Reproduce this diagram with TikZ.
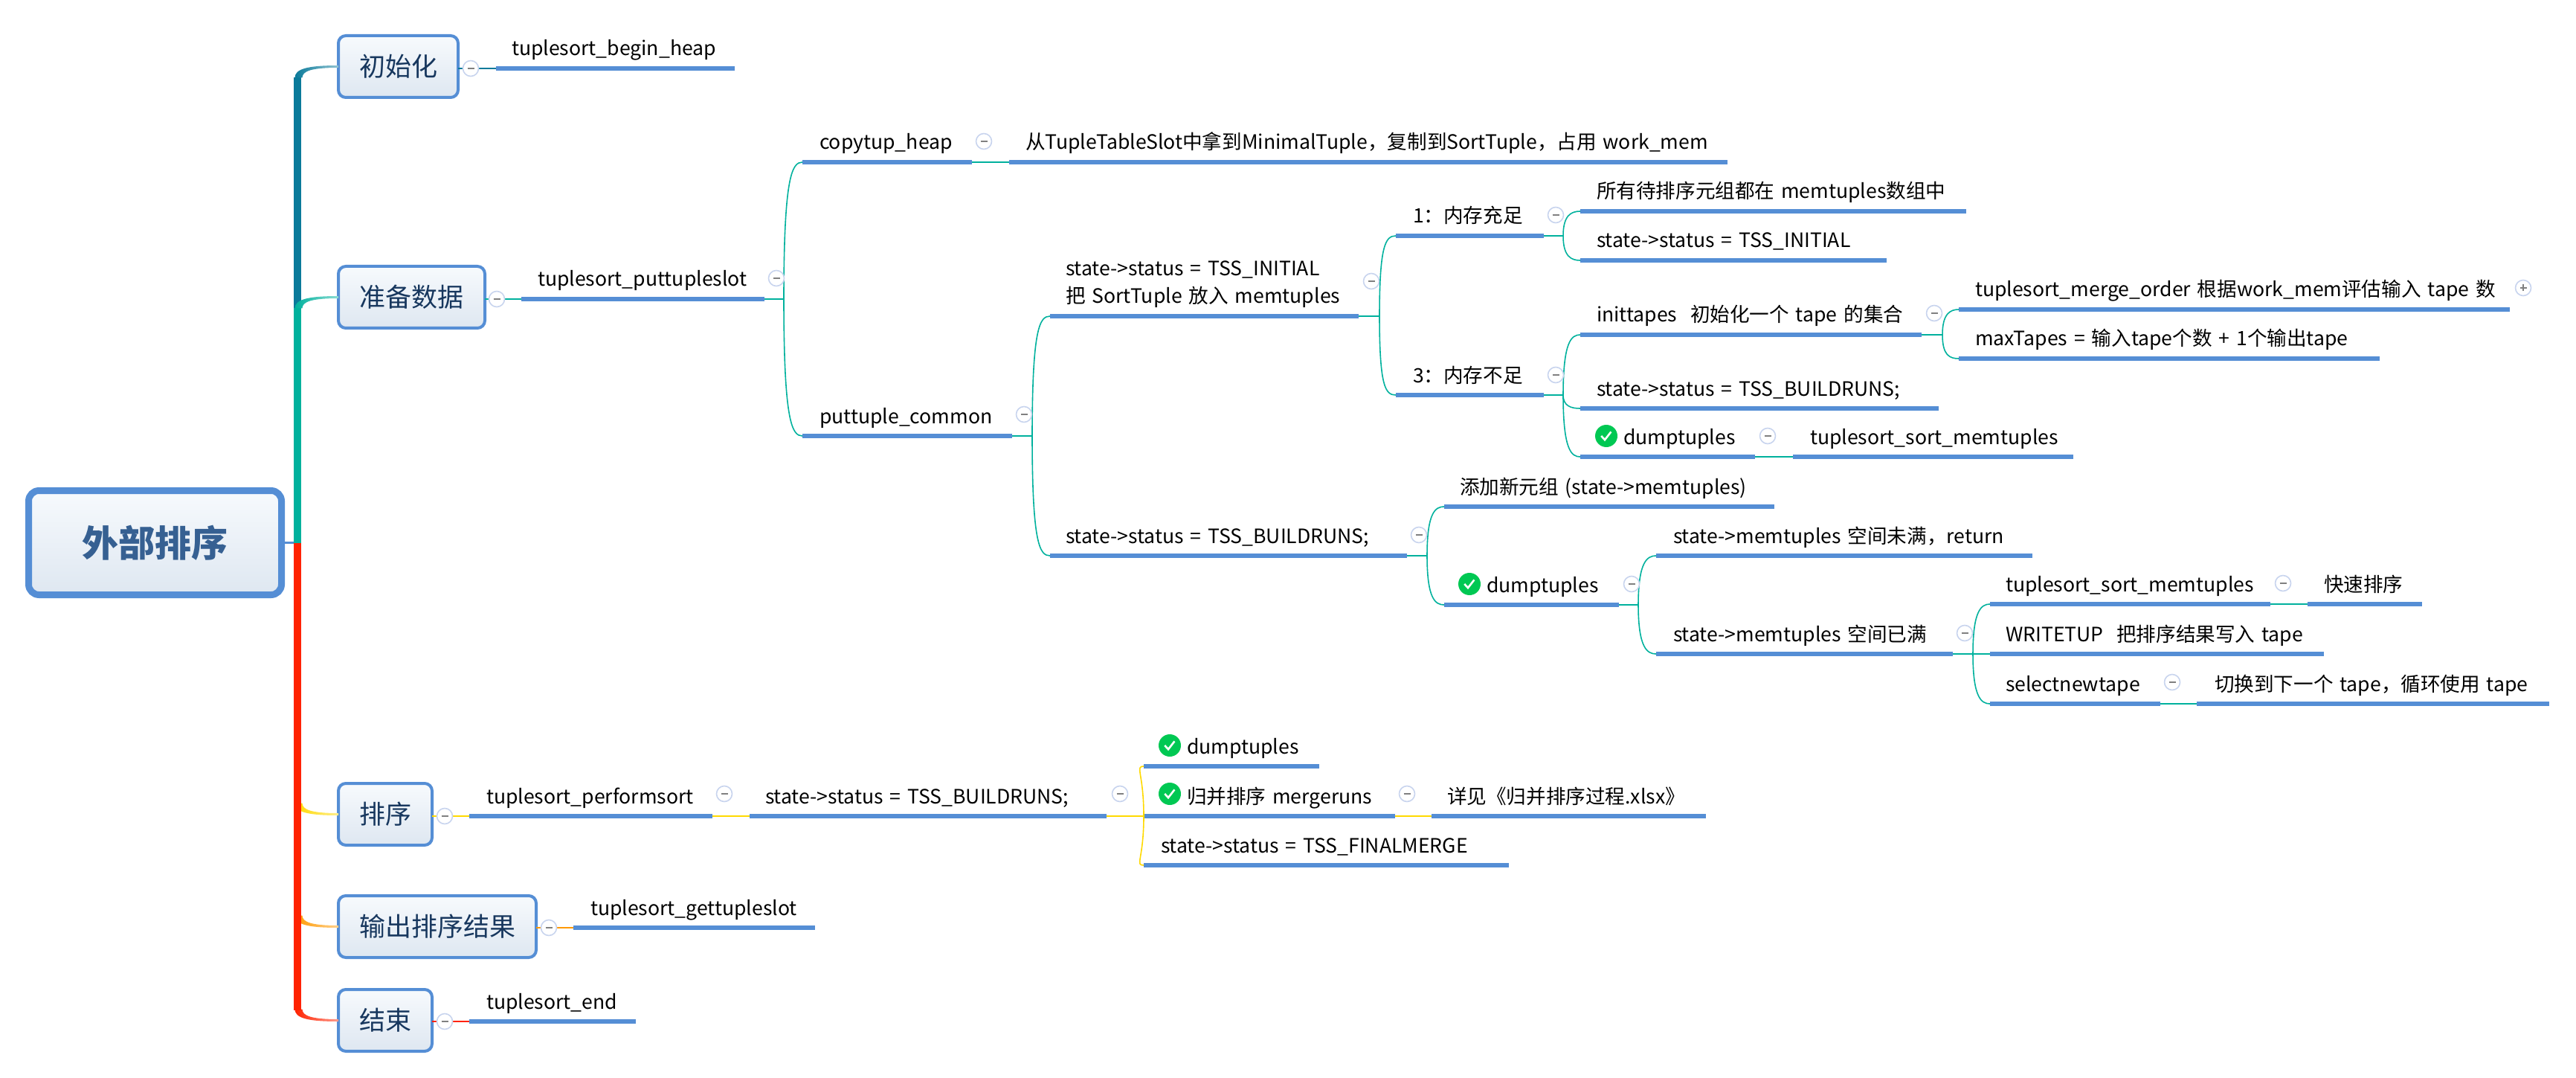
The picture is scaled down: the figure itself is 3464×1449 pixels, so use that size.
\documentclass[tikz,border=0pt]{standalone}
\usepackage{fontspec}
\setmainfont{Noto Sans CJK SC}
\usetikzlibrary{calc}

\definecolor{rulesblue}{RGB}{85,142,213}
\definecolor{boxtop}{RGB}{247,250,253}
\definecolor{boxbottom}{RGB}{222,231,241}
\definecolor{boxink}{RGB}{23,55,94}
\definecolor{rootink}{RGB}{54,96,146}
\definecolor{branchblue}{RGB}{10,122,154}
\definecolor{branchteal}{RGB}{0,177,157}
\definecolor{branchyellow}{RGB}{255,217,0}
\definecolor{branchorange}{RGB}{255,153,0}
\definecolor{branchred}{RGB}{255,34,0}
\definecolor{foldring}{RGB}{200,212,238}
\definecolor{donegreen}{RGB}{0,200,83}

\tikzset{
  pad/.store in=\leafpad, pad=10.5pt,
  leaf/.style={anchor=south west, inner sep=0pt, outer sep=0pt, text depth=8.5pt, align=left,
    font=\fontsize{13.3}{18.5}\selectfont, execute at begin node={\leftskip=\leafpad},
    append after command={(\tikzlastnode.south west) edge[rulesblue, line width=3.2pt] (\tikzlastnode.south east)}},
  topic/.style={draw=rulesblue, line width=2pt, rounded corners=5pt, top color=boxtop, bottom color=boxbottom,
    outer sep=0pt, inner sep=0pt, minimum height=41.5pt, text=boxink, font=\fontsize{17.5}{20}\selectfont},
  rootbox/.style={draw=rulesblue, line width=4.5pt, rounded corners=7pt, top color=boxtop, bottom color=boxbottom,
    outer sep=0pt, minimum width=170pt, minimum height=70pt, text=rootink, font=\fontsize{24.5}{28}\selectfont\bfseries},
  twig/.style={draw=#1, line width=1.2pt},
  fan/.style={draw=#1, line width=0.8pt},
  fold/.style={circle, draw=foldring, line width=0.8pt, fill=white, minimum size=10.5pt, inner sep=0pt,
    path picture={\draw[gray, line width=0.7pt] ([xshift=3pt]path picture bounding box.west) -- ([xshift=-3pt]path picture bounding box.east);}},
  foldplus/.style={circle, draw=foldring, line width=0.8pt, fill=white, minimum size=10.5pt, inner sep=0pt,
    path picture={\draw[gray, line width=0.7pt] ([xshift=3pt]path picture bounding box.west) -- ([xshift=-3pt]path picture bounding box.east)
      ([yshift=3pt]path picture bounding box.south) -- ([yshift=-3pt]path picture bounding box.north);}},
  done/.style={circle, fill=donegreen, minimum size=15pt, inner sep=0pt,
    path picture={\draw[white, line width=1.3pt] ([xshift=-3.4pt]path picture bounding box.center) -- ++(2.4pt,-2.6pt) -- ++(4.2pt,5.4pt);}},
}

\begin{document}
\begin{tikzpicture}[x=0.5pt,y=0.5pt,yscale=-1,xscale=1]
\useasboundingbox (0,0) rectangle (3464,1449);

%Shape: Rounded Rect
\node[rootbox] (root) at (208.5,729.5) {外部排序};
\node[topic, minimum width=80.5pt] (init) at (535.5,89.5) {初始化};
\node[topic, minimum width=98.5pt] (prep) at (553.5,399.5) {准备数据};
\node[topic, minimum width=63pt] (sorting) at (518,1094.5) {排序};
\node[topic, minimum width=133pt] (output) at (588,1245.5) {输出排序结果};
\node[topic, minimum width=63pt] (finish) at (518,1371.5) {结束};

%Leaves of the first level
\node[leaf, text width=160.5pt] (beginheap) at (667,92) {tuplesort\_begin\_heap};
\node[leaf, text width=163.5pt, pad=11pt] (putslot) at (701,402) {tuplesort\_puttupleslot};
\node[leaf, text width=163.5pt, pad=11.5pt] (perform) at (631,1097) {tuplesort\_performsort};
\node[leaf, text width=162.5pt, pad=11.5pt] (getslot) at (771,1247) {tuplesort\_gettupleslot};
\node[leaf, text width=112pt, pad=11.5pt] (endleaf) at (631,1373) {tuplesort\_end};

%Leaves of copytup_heap and puttuple_common
\node[leaf, text width=114pt, pad=11.5pt] (copytup) at (1079,218) {copytup\_heap};
\node[leaf, text width=483pt, pad=11pt] (copynote) at (1357,218) {从TupleTableSlot中拿到MinimalTuple，复制到SortTuple，占用 work\_mem};
\node[leaf, text width=141pt, pad=11.5pt] (common) at (1079,586) {puttuple\_common};
\node[leaf, text width=207.5pt, text depth=27pt] (initial) at (1412,425) {state->status = TSS\_INITIAL\\把 SortTuple 放入 memtuples};
\node[leaf, text width=240pt] (buildruns) at (1412,747) {state->status = TSS\_BUILDRUNS;};

%Leaves of TSS_INITIAL
\node[leaf, text width=99.5pt, pad=11.5pt] (ample) at (1877,317) {1：内存充足};
\node[leaf, text width=99.5pt, pad=11.5pt] (short) at (1877,531) {3：内存不足};
\node[leaf, text width=259.5pt, pad=11pt] (amplea) at (2125,284) {所有待排序元组都在 memtuples数组中};
\node[leaf, text width=206pt, pad=11pt] (ampleb) at (2125,350) {state->status = TSS\_INITIAL};
\node[leaf, text width=229.5pt, pad=11pt] (inittapes) at (2125,450) {inittapes\ \ 初始化一个 tape 的集合};
\node[leaf, text width=241pt, pad=11pt] (shortstatus) at (2125,549) {state->status = TSS\_BUILDRUNS;};
\node[leaf, text width=117.5pt, pad=29pt] (dumpa) at (2125,614) {dumptuples};
\node[leaf, text width=188.5pt, pad=11.5pt] (dumpasort) at (2411,614) {tuplesort\_sort\_memtuples};
\node[leaf, text width=370.5pt, pad=11pt] (mergeorder) at (2634,416) {tuplesort\_merge\_order 根据work\_mem评估输入 tape 数};
\node[leaf, text width=283pt, pad=11pt] (maxtapes) at (2634,482) {maxTapes = 输入tape个数 + 1个输出tape};

%Leaves of TSS_BUILDRUNS
\node[leaf, text width=222pt] (addtuple) at (1942,681) {添加新元组 (state->memtuples)};
\node[leaf, text width=117.5pt, pad=28.5pt] (dumpb) at (1942,813) {dumptuples};
\node[leaf, text width=253pt, pad=11.5pt] (notfull) at (2227,747) {state->memtuples 空间未满，return};
\node[leaf, text width=199.5pt, pad=11.5pt] (full) at (2227,879) {state->memtuples 空间已满};
\node[leaf, text width=188.5pt] (sortmem) at (2676,812) {tuplesort\_sort\_memtuples};
\node[leaf, text width=77pt, pad=11pt] (quick) at (3103,812) {快速排序};
\node[leaf, text width=224.5pt] (writetup) at (2676,879) {WRITETUP\ \ 把排序结果写入 tape};
\node[leaf, text width=114.5pt] (newtape) at (2676,946) {selectnewtape};
\node[leaf, text width=237pt, pad=12pt] (newtapenote) at (2954,946) {切换到下一个 tape，循环使用 tape};

%Leaves of tuplesort_performsort
\node[leaf, text width=240pt, pad=10.5pt] (buildrunsb) at (1008,1097) {state->status = TSS\_BUILDRUNS;};
\node[leaf, text width=118pt, pad=29pt] (dumpc) at (1538,1030) {dumptuples};
\node[leaf, text width=169pt, pad=29pt] (mergeruns) at (1538,1097) {归并排序 mergeruns};
\node[leaf, text width=184.5pt] (seexlsx) at (1925,1097) {详见《归并排序过程.xlsx》};
\node[leaf, text width=245.5pt, pad=11.5pt] (finalmerge) at (1538,1163) {state->status = TSS\_FINALMERGE};

%Straight Lines
\coordinate (hubput) at (1054,402);
\coordinate (hubcommon) at (1388,586);
\coordinate (hubinitial) at (1855,425);
\coordinate (hubample) at (2102,317);
\coordinate (hubshort) at (2102,531);
\coordinate (hubtapes) at (2612,450);
\coordinate (hubbuild) at (1919,747);
\coordinate (hubdump) at (2203,813);
\coordinate (hubfull) at (2653,879);
\coordinate (hubsort) at (1538,1097);
\coordinate (hubroot) at (399.5,729.5);
\foreach \from/\to in {putslot/hubput, common/hubcommon, initial/hubinitial, ample/hubample, short/hubshort,
    inittapes/hubtapes, buildruns/hubbuild, dumpb/hubdump, full/hubfull}
  \draw[twig=branchteal] (\from.south east) -- (\to);
\foreach \from/\to in {copytup/copynote, dumpa/dumpasort, sortmem/quick, newtape/newtapenote}
  \draw[twig=branchteal] (\from.south east) -- (\to.south west);
\draw[twig=branchblue] (init.east |- beginheap.south west) -- (beginheap.south west);
\draw[twig=branchteal] (prep.east |- putslot.south west) -- (putslot.south west);
\draw[twig=branchyellow] (sorting.east |- perform.south west) -- (perform.south west);
\draw[twig=branchorange] (output.east |- getslot.south west) -- (getslot.south west);
\draw[twig=branchred] (finish.east |- endleaf.south west) -- (endleaf.south west);
\draw[twig=branchyellow] (perform.south east) -- (buildrunsb.south west);
\draw[twig=branchyellow] (buildrunsb.south east) -- (hubsort);
\draw[twig=branchyellow] (mergeruns.south east) -- (seexlsx.south west);
\draw[twig=rulesblue] (root.east) -- (hubroot);

%Curves
\foreach \kid/\bend in {copytup/-165, common/165} \draw[fan=branchteal] (hubput) .. controls +(0,\bend) and +(-14,0) .. (\kid.south west);
\foreach \kid/\bend in {initial/-145, buildruns/145} \draw[fan=branchteal] (hubcommon) .. controls +(0,\bend) and +(-14,0) .. (\kid.south west);
\foreach \kid/\bend in {ample/-95, short/95} \draw[fan=branchteal] (hubinitial) .. controls +(0,\bend) and +(-14,0) .. (\kid.south west);
\foreach \kid/\bend in {amplea/-28, ampleb/28} \draw[fan=branchteal] (hubample) .. controls +(0,\bend) and +(-12,0) .. (\kid.south west);
\foreach \kid/\bend in {inittapes/-72, shortstatus/15, dumpa/74} \draw[fan=branchteal] (hubshort) .. controls +(0,\bend) and +(-12,0) .. (\kid.south west);
\foreach \kid/\bend in {mergeorder/-28, maxtapes/28} \draw[fan=branchteal] (hubtapes) .. controls +(0,\bend) and +(-12,0) .. (\kid.south west);
\foreach \kid/\bend in {addtuple/-58, dumpb/58} \draw[fan=branchteal] (hubbuild) .. controls +(0,\bend) and +(-12,0) .. (\kid.south west);
\foreach \kid/\bend in {notfull/-58, full/58} \draw[fan=branchteal] (hubdump) .. controls +(0,\bend) and +(-12,0) .. (\kid.south west);
\foreach \kid/\bend in {sortmem/-58, writetup/0, newtape/58} \draw[fan=branchteal] (hubfull) .. controls +(0,\bend) and +(-12,0) .. (\kid.south west);
\foreach \kid/\bend in {dumpc/-58, mergeruns/0, finalmerge/58} \draw[fan=branchyellow] (hubsort) .. controls +(0,\bend) and +(-12,0) .. (\kid.south west);

%Trunk and its limbs
\coordinate (trunkup) at (399.5,104);
\coordinate (trunksplit) at (399.5,414);
\coordinate (trunkdown) at (399.5,1358);
\draw[branchblue, line width=5pt] (trunkup) -- (trunksplit);
\draw[branchteal, line width=5pt] (trunksplit) -- (hubroot);
\foreach \topic/\limbcol in {init/branchblue, prep/branchteal}
  \shade[left color=\limbcol, right color=\limbcol!45] ($(\topic.west)+(0,-1.5)$) .. controls +(-41,0) and +(0,-12) .. ($(\topic.west)+(-58.5,15)$) -- ($(\topic.west)+(-48.5,15)$) .. controls +(0,-9) and +(-36,0) .. ($(\topic.west)+(0,1.5)$) -- cycle;
\foreach \topic/\limbcol in {sorting/branchyellow, output/branchorange, finish/branchred}
  \shade[left color=\limbcol, right color=\limbcol!45] ($(\topic.west)+(0,1.5)$) .. controls +(-41,0) and +(0,12) .. ($(\topic.west)+(-58.5,-15)$) -- ($(\topic.west)+(-48.5,-15)$) .. controls +(0,9) and +(-36,0) .. ($(\topic.west)+(0,-1.5)$) -- cycle;
\draw[branchred, line width=5pt] (hubroot) -- (trunkdown);

%Shape: Circle
\node[fold] (foldinit) at (633,92) {};
\node[fold] (foldprep) at (668,402) {};
\node[fold] (foldput) at (1044,374) {};
\node[fold] (foldcopy) at (1323,190) {};
\node[fold] (foldcommon) at (1377,557) {};
\node[fold] (foldinitial) at (1844,378) {};
\node[fold] (foldample) at (2092,289) {};
\node[fold] (foldshort) at (2092,504) {};
\node[fold] (foldtapes) at (2601,421) {};
\node[foldplus] (foldorder) at (3393,387) {};
\node[fold] (folddumpa) at (2377,586) {};
\node[fold] (foldbuild) at (1908,719) {};
\node[fold] (folddumpb) at (2194,785) {};
\node[fold] (foldfull) at (2642,851) {};
\node[fold] (foldsort) at (3070,784) {};
\node[fold] (foldnew) at (2921,917) {};
\node[fold] (foldsorting) at (598,1097) {};
\node[fold] (foldperform) at (974,1067) {};
\node[fold] (foldruns) at (1506,1067) {};
\node[fold] (foldmerge) at (1892,1067) {};
\node[fold] (foldoutput) at (738,1247) {};
\node[fold] (foldfinish) at (598,1373) {};

\node[done] (donea) at (2160,586) {};
\node[done] (doneb) at (1976,785) {};
\node[done] (donec) at (1573,1002) {};
\node[done] (doned) at (1573,1067) {};

\end{tikzpicture}
\end{document}
